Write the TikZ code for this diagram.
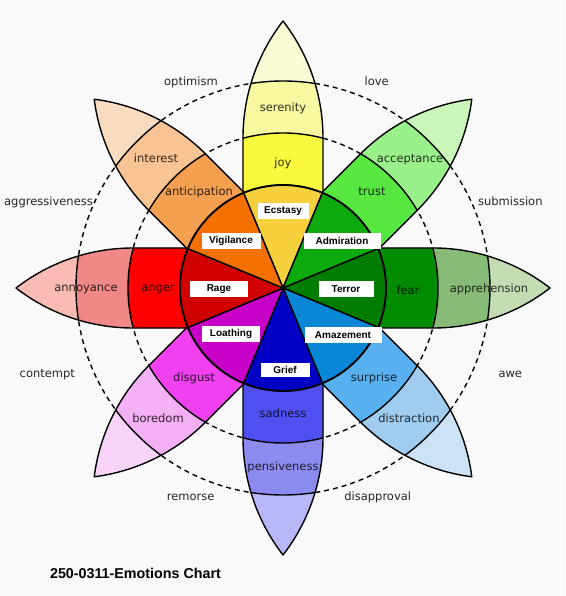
\documentclass[tikz,border=0pt]{standalone}
\usepackage{fontspec}
\setmainfont{DejaVu Sans}
\newfontfamily\arialfont{Liberation Sans}
\usepackage{tikz}

\definecolor{bgC}{HTML}{F9F9F9}
% core / band / outer band / tip
\definecolor{ecstasyC}{HTML}{F7D03E}
\definecolor{joyC}{HTML}{F8F83E}
\definecolor{serenityC}{HTML}{F8F8A0}
\definecolor{joyTip}{HTML}{FAFAD4}
\definecolor{admirationC}{HTML}{0CAA0C}
\definecolor{trustC}{HTML}{58E640}
\definecolor{acceptanceC}{HTML}{9AF08A}
\definecolor{trustTip}{HTML}{CAF6BA}
\definecolor{terrorC}{HTML}{007C00}
\definecolor{fearC}{HTML}{008C00}
\definecolor{apprehensionC}{HTML}{88BA78}
\definecolor{fearTip}{HTML}{C4DCB4}
\definecolor{amazementC}{HTML}{0A86D6}
\definecolor{surpriseC}{HTML}{58B0F0}
\definecolor{distractionC}{HTML}{A0CCF0}
\definecolor{surpriseTip}{HTML}{CCE2F6}
\definecolor{griefC}{HTML}{0000C4}
\definecolor{sadnessC}{HTML}{5050F0}
\definecolor{pensivenessC}{HTML}{8C8CF0}
\definecolor{sadnessTip}{HTML}{B8B8F8}
\definecolor{loathingC}{HTML}{C800C8}
\definecolor{disgustC}{HTML}{F040F0}
\definecolor{boredomC}{HTML}{F4B0F4}
\definecolor{disgustTip}{HTML}{F8D4F8}
\definecolor{rageC}{HTML}{D00000}
\definecolor{angerC}{HTML}{FF0000}
\definecolor{annoyanceC}{HTML}{F08888}
\definecolor{angerTip}{HTML}{F8BCB4}
\definecolor{vigilanceC}{HTML}{F47000}
\definecolor{anticipationC}{HTML}{F4A050}
\definecolor{interestC}{HTML}{F8C494}
\definecolor{interestTip}{HTML}{F8DCC0}

% one petal, pointing along +x
\newcommand{\petalpath}{(60,-40) -- (150,-40)
  arc[start angle=-90,end angle=-52.25,radius=191.1]
  arc[start angle=52.25,end angle=90,radius=191.1] -- (60,40) -- cycle}
\newcommand{\petallist}{90/ecstasyC/joyC/serenityC/joyTip,
  45/admirationC/trustC/acceptanceC/trustTip,
  0/terrorC/fearC/apprehensionC/fearTip,
  -45/amazementC/surpriseC/distractionC/surpriseTip,
  -90/griefC/sadnessC/pensivenessC/sadnessTip,
  -135/loathingC/disgustC/boredomC/disgustTip,
  180/rageC/angerC/annoyanceC/angerTip,
  135/vigilanceC/anticipationC/interestC/interestTip}

\begin{document}
\begin{tikzpicture}[x=1pt,y=1pt,
outline/.style={line width=1.4pt,line join=round},
ring/.style={dashed,dash pattern=on 5pt off 4pt,line width=1.4pt},
petallab/.style={font=\fontsize{11.5}{13}\selectfont,text=black,text opacity=0.8,
  inner sep=0pt,text height=1.5ex,text depth=0.25ex},
outerlab/.style={font=\fontsize{11.5}{13}\selectfont,text=black!85,
  inner sep=0pt,text height=1.5ex,text depth=0.25ex},
corelab/.style={fill=white,font=\arialfont\bfseries\fontsize{10}{12}\selectfont,
  minimum height=16pt,inner sep=1pt},
charttitle/.style={font=\arialfont\bfseries\fontsize{14.3}{16}\selectfont}]
    % Background
    \fill[bgC] (-283,-308) rectangle (282,288);
    \useasboundingbox (-283,-308) rectangle (282,288);

    % Dashed rings
    \draw[ring] (0,0) circle[radius=155];
    \draw[ring] (0,0) circle[radius=207];

    % Petals
    \foreach \ang/\cA/\cB/\cC/\cD in \petallist {
      \begin{scope}[rotate=\ang]
        \fill[\cD] \petalpath;
        \begin{scope}
          \clip \petalpath;
          \fill[\cC] (0,0) circle[radius=207];
          \fill[\cB] (0,0) circle[radius=155];
          \draw[outline] (0,0) circle[radius=207] (0,0) circle[radius=155];
        \end{scope}
        \draw[outline] \petalpath;
      \end{scope}
    }

    % Inner wheel
    \foreach \ang/\cA/\cB/\cC/\cD in \petallist {
      \filldraw[fill=\cA,outline] (0,0) -- (\ang-22.5:103)
        arc[start angle=\ang-22.5,end angle=\ang+22.5,radius=103] -- cycle;
    }
    \draw[outline,line width=1.8pt] (0,0) circle[radius=103];

    % Core labels
    \node[corelab,minimum width=51pt] (ecstasy) at (0,77) {Ecstasy};
    \node[corelab,minimum width=77pt] (admiration) at (59,47) {Admiration};
    \node[corelab,minimum width=55pt] (terror) at (63,-1) {Terror};
    \node[corelab,minimum width=77pt] (amazement) at (60,-47) {Amazement};
    \node[corelab,minimum width=49pt,minimum height=14pt] (grief) at (2,-82) {Grief};
    \node[corelab,minimum width=58pt] (loathing) at (-52,-46) {Loathing};
    \node[corelab,minimum width=58pt] (rage) at (-64,-1) {Rage};
    \node[corelab,minimum width=59pt] (vigilance) at (-52,47) {Vigilance};

    % Petal labels
    \node[petallab] (joy) at (0,125) {joy};
    \node[petallab] (serenity) at (0,180) {serenity};
    \node[petallab] (trust) at (89,96) {trust};
    \node[petallab] (acceptance) at (127,129) {acceptance};
    \node[petallab] (fear) at (125,-3) {fear};
    \node[petallab] (apprehension) at (206,-1) {apprehension};
    \node[petallab] (surprise) at (91,-90) {surprise};
    \node[petallab] (distraction) at (126,-131) {distraction};
    \node[petallab] (sadness) at (0,-126) {sadness};
    \node[petallab] (pensiveness) at (0,-179) {pensiveness};
    \node[petallab] (disgust) at (-89,-90) {disgust};
    \node[petallab] (boredom) at (-125,-131) {boredom};
    \node[petallab] (anger) at (-125,0) {anger};
    \node[petallab] (annoyance) at (-197,0) {annoyance};
    \node[petallab] (anticipation) at (-84,96) {anticipation};
    \node[petallab] (interest) at (-127,129) {interest};

    % Dyads
    \node[outerlab] (optimism) at (-92,206.3) {optimism};
    \node[outerlab] (love) at (93.7,206.3) {love};
    \node[outerlab] (submission) at (227.3,86.3) {submission};
    \node[outerlab] (aggressiveness) at (-234.5,86.3) {aggressiveness};
    \node[outerlab] (contempt) at (-235.7,-85.7) {contempt};
    \node[outerlab] (awe) at (227.3,-85.7) {awe};
    \node[outerlab] (remorse) at (-92.3,-208.7) {remorse};
    \node[outerlab] (disapproval) at (94.7,-208.7) {disapproval};

    \node[charttitle] (title) at (-147.5,-285.3) {250-0311-Emotions Chart};
\end{tikzpicture}
\end{document}
